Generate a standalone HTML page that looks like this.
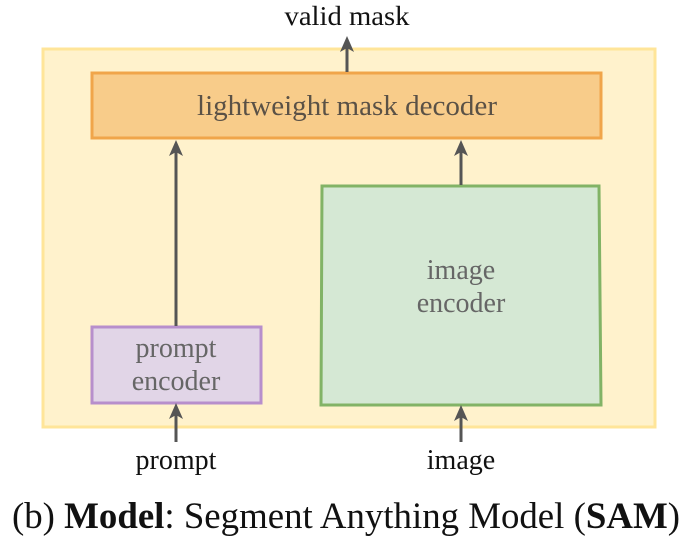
<!DOCTYPE html>
<html><head><style>
html,body{margin:0;padding:0;background:#fff;}
</style></head><body>
<svg width="689" height="549" xmlns="http://www.w3.org/2000/svg" font-family="Liberation Serif, serif">
<rect x="43" y="49" width="612" height="378" fill="#fff2cc" stroke="#ffe599" stroke-width="3"/>
<rect x="92" y="73" width="509" height="65" fill="#f8cc8a" stroke="#f0a54a" stroke-width="3"/>
<text x="347" y="115" font-size="29" fill="#5a5146" text-anchor="middle" textLength="300" lengthAdjust="spacingAndGlyphs">lightweight mask decoder</text>
<path d="M322,186 L599,186 L601,405 L321,405 Z" fill="#d5e8d4" stroke="#82b366" stroke-width="3"/>
<text x="461" y="279" font-size="28" fill="#666" text-anchor="middle">image</text>
<text x="461" y="312" font-size="28" fill="#666" text-anchor="middle">encoder</text>
<rect x="92" y="327" width="169" height="76" fill="#e1d5e7" stroke="#b78fcc" stroke-width="3"/>
<text x="176" y="357" font-size="28" fill="#666" text-anchor="middle">prompt</text>
<text x="176" y="390" font-size="28" fill="#666" text-anchor="middle">encoder</text>
<g stroke="#555" stroke-width="3">
<line x1="347" y1="72" x2="347" y2="48"/>
<line x1="176" y1="326" x2="176" y2="152"/>
<line x1="461" y1="185" x2="461" y2="152"/>
<line x1="176" y1="442" x2="176" y2="414"/>
<line x1="461" y1="442" x2="461" y2="416"/>
</g>
<g fill="#555">
<path d="M347,36 L354,52 L347,48 L340,52 Z"/>
<path d="M176,140 L183,156 L176,152 L169,156 Z"/>
<path d="M461,140 L468,156 L461,152 L454,156 Z"/>
<path d="M176,403 L183,419 L176,415 L169,419 Z"/>
<path d="M461,405 L468,421 L461,417 L454,421 Z"/>
</g>
<text x="347" y="25" font-size="27" fill="#111" text-anchor="middle" textLength="125" lengthAdjust="spacingAndGlyphs">valid mask</text>
<text x="176" y="469" font-size="28" fill="#111" text-anchor="middle">prompt</text>
<text x="461" y="469" font-size="28" fill="#111" text-anchor="middle">image</text>
<text x="346" y="528" font-size="37" fill="#111" text-anchor="middle" textLength="668" lengthAdjust="spacingAndGlyphs">(b) <tspan font-weight="bold">Model</tspan>: Segment Anything Model (<tspan font-weight="bold">SAM</tspan>)</text>
</svg>
</body></html>
